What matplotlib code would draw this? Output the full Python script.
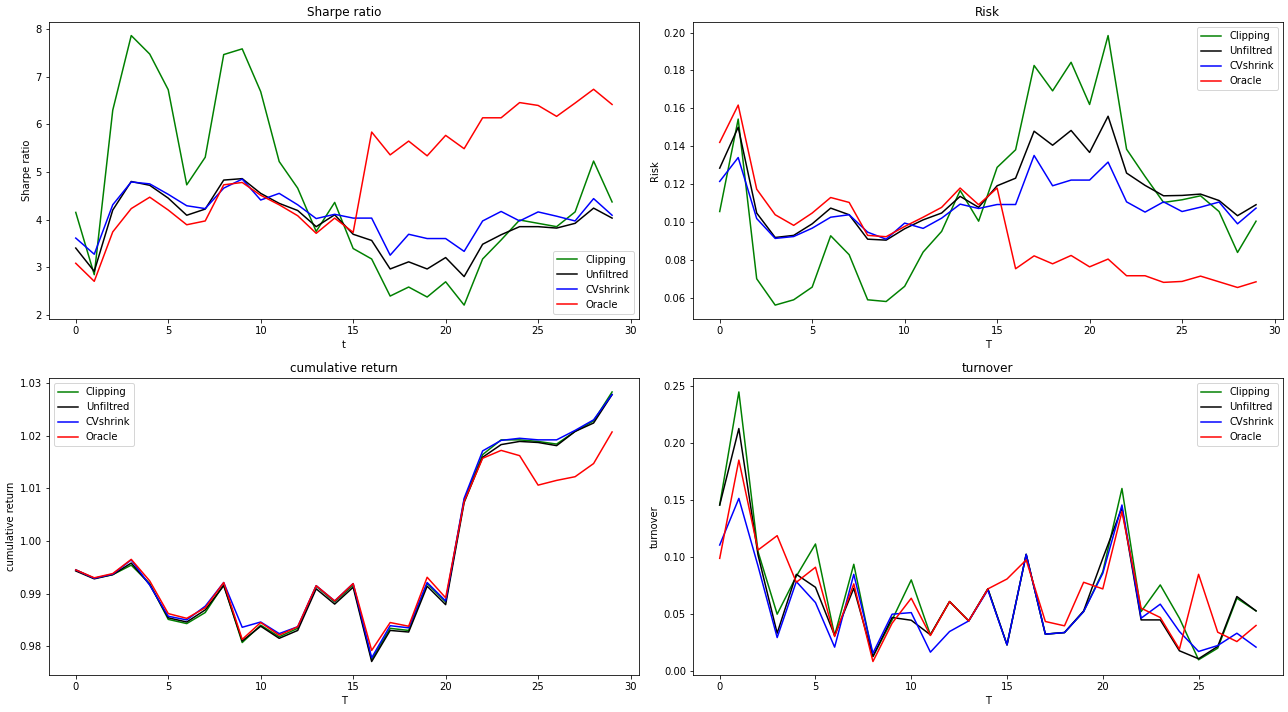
import matplotlib
matplotlib.use("Agg")
import matplotlib.pyplot as plt
import numpy as np

labels = ["Clipping", "Unfiltred", "CVshrink", "Oracle"]
colors = ["g", "k", "b", "r"]

sharpe_clipping = [4.15, 2.84, 6.30, 7.87, 7.48, 6.73, 4.73, 5.31, 7.47, 7.59,
                   6.69, 5.22, 4.66, 3.75, 4.36, 3.39, 3.17, 2.39, 2.58, 2.37,
                   2.69, 2.20, 3.17, 3.57, 3.99, 3.92, 3.85, 4.16, 5.23, 4.37]
sharpe_unfiltred = [3.40, 2.91, 4.20, 4.80, 4.72, 4.45, 4.09, 4.22, 4.83, 4.86,
                    4.55, 4.34, 4.19, 3.85, 4.10, 3.69, 3.56, 2.96, 3.11, 2.96,
                    3.20, 2.80, 3.48, 3.68, 3.85, 3.85, 3.82, 3.92, 4.24, 4.03]
sharpe_cvshrink = [3.61, 3.27, 4.31, 4.79, 4.75, 4.53, 4.29, 4.23, 4.66, 4.85,
                   4.41, 4.55, 4.31, 4.02, 4.11, 4.03, 4.03, 3.25, 3.69, 3.60,
                   3.60, 3.33, 3.97, 4.17, 3.97, 4.16, 4.07, 3.97, 4.44, 4.09]
sharpe_oracle = [3.08, 2.70, 3.74, 4.23, 4.47, 4.20, 3.89, 3.97, 4.73, 4.78,
                 4.51, 4.31, 4.08, 3.71, 4.03, 3.73, 5.84, 5.36, 5.65, 5.34,
                 5.77, 5.49, 6.14, 6.14, 6.46, 6.40, 6.17, 6.45, 6.74, 6.42]

risk_clipping = [0.1055, 0.1543, 0.0700, 0.0561, 0.0589, 0.0656, 0.0927, 0.0827, 0.0589, 0.0580,
                 0.0660, 0.0841, 0.0950, 0.1166, 0.1004, 0.1288, 0.1381, 0.1826, 0.1692, 0.1843,
                 0.1620, 0.1984, 0.1384, 0.1240, 0.1103, 0.1117, 0.1138, 0.1055, 0.0839, 0.1004]
risk_unfiltred = [0.1284, 0.1500, 0.1047, 0.0918, 0.0929, 0.0990, 0.1073, 0.1038, 0.0909, 0.0904,
                  0.0964, 0.1011, 0.1047, 0.1135, 0.1077, 0.1191, 0.1231, 0.1479, 0.1405, 0.1483,
                  0.1367, 0.1558, 0.1258, 0.1193, 0.1138, 0.1140, 0.1147, 0.1113, 0.1033, 0.1091]
risk_cvshrink = [0.1214, 0.1340, 0.1018, 0.0913, 0.0923, 0.0967, 0.1025, 0.1038, 0.0946, 0.0909,
                 0.0994, 0.0966, 0.1020, 0.1094, 0.1071, 0.1092, 0.1092, 0.1351, 0.1191, 0.1221,
                 0.1221, 0.1316, 0.1106, 0.1052, 0.1106, 0.1055, 0.1078, 0.1105, 0.0990, 0.1073]
risk_oracle = [0.1420, 0.1617, 0.1173, 0.1038, 0.0982, 0.1047, 0.1129, 0.1103, 0.0929, 0.0922,
               0.0976, 0.1025, 0.1077, 0.1179, 0.1091, 0.1179, 0.0753, 0.0821, 0.0779, 0.0823,
               0.0763, 0.0804, 0.0716, 0.0716, 0.0681, 0.0686, 0.0714, 0.0684, 0.0654, 0.0684]

cum_clipping = [0.9945, 0.9929, 0.9936, 0.9954, 0.9919, 0.9851, 0.9843, 0.9864, 0.9917, 0.9807,
                0.9840, 0.9818, 0.9834, 0.9914, 0.9884, 0.9916, 0.9775, 0.9834, 0.9830, 0.9919,
                0.9884, 1.0078, 1.0164, 1.0192, 1.0192, 1.0189, 1.0184, 1.0208, 1.0228, 1.0283]
cum_unfiltred = [0.9943, 0.9928, 0.9936, 0.9958, 0.9917, 0.9854, 0.9846, 0.9869, 0.9915, 0.9810,
                 0.9838, 0.9815, 0.9830, 0.9909, 0.9880, 0.9912, 0.9771, 0.9830, 0.9827, 0.9914,
                 0.9879, 1.0073, 1.0159, 1.0183, 1.0189, 1.0187, 1.0181, 1.0208, 1.0224, 1.0278]
cum_cvshrink = [0.9945, 0.9929, 0.9937, 0.9964, 0.9916, 0.9857, 0.9850, 0.9876, 0.9921, 0.9836,
                0.9846, 0.9824, 0.9837, 0.9915, 0.9886, 0.9919, 0.9778, 0.9839, 0.9835, 0.9921,
                0.9886, 1.0081, 1.0171, 1.0191, 1.0195, 1.0192, 1.0192, 1.0210, 1.0230, 1.0278]
cum_oracle = [0.9945, 0.9930, 0.9938, 0.9965, 0.9924, 0.9862, 0.9853, 0.9873, 0.9921, 0.9813,
              0.9845, 0.9821, 0.9837, 0.9915, 0.9886, 0.9919, 0.9792, 0.9845, 0.9838, 0.9931,
              0.9892, 1.0075, 1.0157, 1.0172, 1.0162, 1.0106, 1.0115, 1.0122, 1.0147, 1.0207]

turn_clipping = [0.1455, 0.2447, 0.1046, 0.0497, 0.0830, 0.1113, 0.0310, 0.0935, 0.0126, 0.0447,
                 0.0798, 0.0316, 0.0608, 0.0438, 0.0719, 0.0228, 0.1022, 0.0322, 0.0336, 0.0520,
                 0.0870, 0.1600, 0.0520, 0.0754, 0.0462, 0.0097, 0.0199, 0.0637, 0.0526]
turn_unfiltred = [0.1455, 0.2126, 0.1017, 0.0330, 0.0847, 0.0733, 0.0310, 0.0725, 0.0126, 0.0468,
                  0.0444, 0.0316, 0.0608, 0.0438, 0.0719, 0.0228, 0.1022, 0.0322, 0.0336, 0.0526,
                  0.0987, 0.1431, 0.0447, 0.0447, 0.0176, 0.0106, 0.0214, 0.0652, 0.0526]
turn_cvshrink = [0.1104, 0.1513, 0.0920, 0.0292, 0.0783, 0.0599, 0.0208, 0.0847, 0.0155, 0.0497,
                 0.0511, 0.0164, 0.0345, 0.0438, 0.0710, 0.0228, 0.1022, 0.0322, 0.0336, 0.0520,
                 0.0856, 0.1455, 0.0462, 0.0585, 0.0345, 0.0170, 0.0222, 0.0330, 0.0208]
turn_oracle = [0.0987, 0.1849, 0.1060, 0.1186, 0.0777, 0.0909, 0.0301, 0.0763, 0.0082, 0.0418,
               0.0637, 0.0310, 0.0608, 0.0438, 0.0719, 0.0806, 0.0973, 0.0433, 0.0395, 0.0777,
               0.0719, 0.1396, 0.0550, 0.0468, 0.0190, 0.0847, 0.0339, 0.0257, 0.0398]

panels = [
    ("Sharpe ratio", "t", "Sharpe ratio", "lower right",
     [sharpe_clipping, sharpe_unfiltred, sharpe_cvshrink, sharpe_oracle]),
    ("Risk", "T", "Risk", "upper right",
     [risk_clipping, risk_unfiltred, risk_cvshrink, risk_oracle]),
    ("cumulative return", "T", "cumulative return", "upper left",
     [cum_clipping, cum_unfiltred, cum_cvshrink, cum_oracle]),
    ("turnover", "T", "turnover", "upper right",
     [turn_clipping, turn_unfiltred, turn_cvshrink, turn_oracle]),
]

fig, axes = plt.subplots(2, 2, figsize=(1288 / 72, 712 / 72), dpi=72)
fig.subplots_adjust(left=0.038, right=0.996, top=0.969, bottom=0.052,
                    wspace=0.0915, hspace=0.202)

for ax, (title, xl, yl, loc, series) in zip(axes.flat, panels):
    for s, lab, c in zip(series, labels, colors):
        ax.plot(np.arange(len(s)), s, color=c, label=lab)
    ax.set_title(title)
    ax.set_xlabel(xl)
    ax.set_ylabel(yl)
    ax.legend(loc=loc)

fig.savefig("out.png", dpi=72)
